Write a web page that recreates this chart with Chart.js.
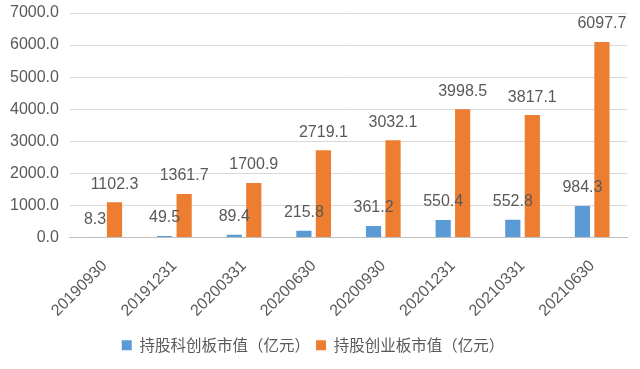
<!DOCTYPE html>
<html>
<head>
<meta charset="utf-8">
<script src="https://cdn.jsdelivr.net/npm/chart.js@4"></script>
<style>
    html, body { margin: 0; padding: 0; background: #fff; }
    #wrap { width: 640px; height: 369px; }
</style>
</head>
<body>
<div id="wrap"><canvas id="marketChart"></canvas></div>
<script>
const dates = ['20190930', '20191231', '20200331', '20200630', '20200930', '20201231', '20210331', '20210630'];
const kechuangValues = [8.3, 49.5, 89.4, 215.8, 361.2, 550.4, 552.8, 984.3];
const chuangyeValues = [1102.3, 1361.7, 1700.9, 2719.1, 3032.1, 3998.5, 3817.1, 6097.7];
const seriesNames = ['持股科创板市值（亿元）', '持股创业板市值（亿元）'];

const textColor = '#595959';
const fontFamily = '"Liberation Sans", "Noto Sans CJK SC", sans-serif';

// value labels above each bar
const valueLabels = {
    id: 'valueLabels',
    afterDatasetsDraw(chart) {
        const ctx = chart.ctx;
        ctx.save();
        ctx.font = '16px ' + fontFamily;
        ctx.fillStyle = textColor;
        ctx.textAlign = 'center';
        ctx.textBaseline = 'middle';
        chart.data.datasets.forEach((ds, i) => {
            const meta = chart.getDatasetMeta(i);
            meta.data.forEach((bar, j) => {
                ctx.fillText(ds.data[j].toFixed(1), bar.x, bar.y - 18);
            });
        });
        ctx.restore();
    }
};

const ctx = document.getElementById('marketChart').getContext('2d');
new Chart(ctx, {
    type: 'bar',
    data: {
        labels: dates,
        datasets: [
            {
                label: seriesNames[0],
                data: kechuangValues,
                backgroundColor: '#5B9BD5',
                barPercentage: 0.78,
                categoryPercentage: 0.56
            },
            {
                label: seriesNames[1],
                data: chuangyeValues,
                backgroundColor: '#ED7D31',
                barPercentage: 0.78,
                categoryPercentage: 0.56
            }
        ]
    },
    options: {
        responsive: true,
        maintainAspectRatio: false,
        animation: false,
        layout: {
            padding: { top: 0, right: 13, left: -1, bottom: 6 }
        },
        plugins: {
            legend: {
                position: 'bottom',
                labels: {
                    boxWidth: 10,
                    boxHeight: 10,
                    padding: 6,
                    color: textColor,
                    font: { size: 15.5, family: '"Noto Sans CJK SC", sans-serif' }
                }
            },
            tooltip: { enabled: false }
        },
        scales: {
            y: {
                min: 0,
                max: 7000,
                afterFit: scale => { scale.paddingTop = 13; },
                ticks: {
                    stepSize: 1000,
                    padding: 11,
                    color: textColor,
                    font: { size: 16, family: fontFamily },
                    callback: v => v.toFixed(1)
                },
                grid: {
                    color: '#d9d9d9',
                    drawTicks: false
                },
                border: { display: false }
            },
            x: {
                ticks: {
                    minRotation: 45,
                    maxRotation: 45,
                    padding: 11,
                    color: textColor,
                    font: { size: 16, family: fontFamily }
                },
                grid: { display: false },
                border: { color: '#bfbfbf' }
            }
        }
    },
    plugins: [valueLabels]
});
</script>
</body>
</html>
